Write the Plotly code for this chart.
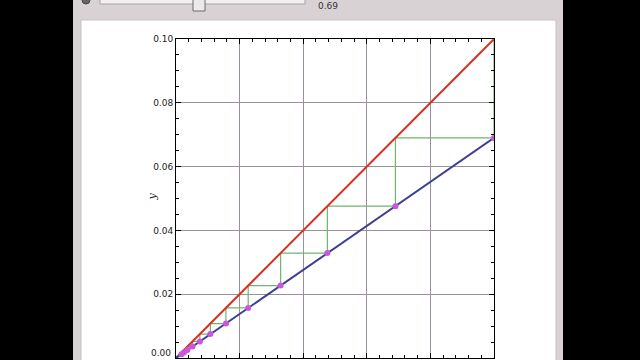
import plotly.graph_objects as go

# ---- data ----
line_x = [0.0, 0.1]
identity_y = [0.0, 0.1]
map_y = [0.0, 0.069]          # y = 0.69 x
orbit = [0.1, 0.069, 0.0476, 0.0329, 0.0227, 0.0157, 0.0108, 0.0075,
         0.0052, 0.0036, 0.0025, 0.0017, 0.0012]
y_ticks = [0.0, 0.02, 0.04, 0.06, 0.08, 0.10]
y_tick_text = ["0.00", "0.02", "0.04", "0.06", "0.08", "0.10"]
slider_value = "0.69"

# cobweb path built from the orbit
cx, cy = [orbit[0]], [orbit[0]]
for a, b in zip(orbit[:-1], orbit[1:]):
    cx += [a, b]
    cy += [b, b]
pts_x = orbit[:-1]
pts_y = orbit[1:]

L, R, T, B = 176, 494, 39, 358
W, H = 640, 360
def px(p): return (p - L) / (R - L)
def py(p): return (B - p) / (B - T)

fig = go.Figure()
fig.add_trace(go.Scatter(x=cx, y=cy, mode="lines",
                         line=dict(color="#6fb56f", width=1.2), hoverinfo="skip"))
fig.add_trace(go.Scatter(x=line_x, y=identity_y, mode="lines",
                         line=dict(color="#d8321e", width=2)))
fig.add_trace(go.Scatter(x=line_x, y=map_y, mode="lines",
                         line=dict(color="#3f3f92", width=2)))
fig.add_trace(go.Scatter(x=pts_x, y=pts_y, mode="markers",
                         marker=dict(color="#cc55dd", size=6)))

shapes = [
    dict(type="rect", xref="paper", yref="paper", x0=px(73), x1=px(563), y0=py(362), y1=py(0),
         fillcolor="#d9d2d5", line=dict(width=0), layer="below"),
    dict(type="rect", xref="paper", yref="paper", x0=px(81), x1=px(556), y0=py(362), y1=py(20),
         fillcolor="#ffffff", line=dict(color="#c8c2c5", width=1), layer="below"),
    # slider track
    dict(type="rect", xref="paper", yref="paper", x0=px(100), x1=px(305), y0=py(4), y1=py(-4),
         fillcolor="#f2eff0", line=dict(color="#aaa4a7", width=1), layer="below"),
    # slider thumb
    dict(type="rect", xref="paper", yref="paper", x0=px(193), x1=px(205), y0=py(11), y1=py(-2),
         fillcolor="#ece9ea", line=dict(color="#6e6a6c", width=1), layer="below"),
    # icon
    dict(type="circle", xref="paper", yref="paper", x0=px(82), x1=px(90), y0=py(4), y1=py(-4),
         fillcolor="#666", line=dict(color="#444", width=1), layer="below"),
]

fig.update_layout(
    width=W, height=H,
    margin=dict(l=L, r=W - R, t=T, b=H - B, autoexpand=False),
    paper_bgcolor="black", plot_bgcolor="white",
    showlegend=False,
    shapes=shapes,
    annotations=[
        dict(text="<i>y</i>", xref="paper", yref="paper", x=px(143), y=py(197),
             showarrow=False, textangle=-90,
             font=dict(family="DejaVu Serif", size=11, color="#222")),
        dict(text=slider_value, xref="paper", yref="paper", x=px(316), y=py(6),
             xanchor="left", yanchor="middle", showarrow=False,
             font=dict(family="DejaVu Sans", size=9, color="#333")),
        # bottom y label, nudged up so it stays inside the picture
        dict(text=y_tick_text[0], xref="paper", yref="paper", x=px(173), y=py(353),
             xanchor="right", yanchor="middle", showarrow=False,
             font=dict(family="DejaVu Sans", size=9, color="#222")),
    ],
)
axis_common = dict(
    range=[0, 0.1], showline=True, linecolor="black", linewidth=1, mirror="ticks",
    ticks="inside", ticklen=5, tickcolor="black", tickwidth=1,
    showgrid=True, gridcolor="#9b8f9f", gridwidth=1, zeroline=False,
    tickfont=dict(family="DejaVu Sans", size=9, color="#222"),
    dtick=0.02, tick0=0, automargin=False,
)
fig.update_xaxes(**axis_common, showticklabels=False,
                 minor=dict(dtick=0.004, ticks="inside", ticklen=3, tickcolor="black", showgrid=False))
fig.update_yaxes(**axis_common, tickmode="array", tickvals=y_ticks[1:], ticktext=y_tick_text[1:],
                 minor=dict(dtick=0.005, ticks="inside", ticklen=3, tickcolor="black", showgrid=False))

fig.write_html("out.html")
